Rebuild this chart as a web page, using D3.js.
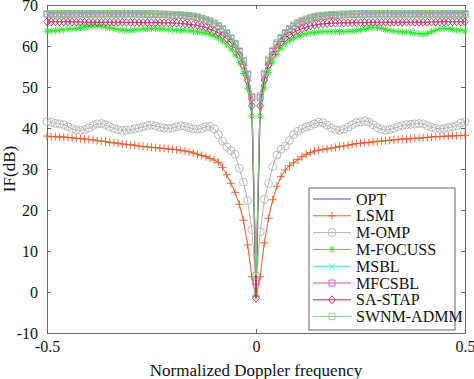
<!DOCTYPE html>
<html>
<head>
<meta charset="utf-8">
<script src="https://cdn.jsdelivr.net/npm/d3@7"></script>
<style>
  body { margin: 0; background: #fff; }
  svg { display: block; font-family: "Liberation Serif", "Times New Roman", serif; }
</style>
</head>
<body>
<svg id="chart" width="474" height="379"></svg>
<script>
// normalized doppler grid, -0.5 .. 0.5 step 0.01
var doppler = d3.range(101).map(function (i) { return (i - 50) / 100; });

var xTicks = [-0.5, 0, 0.5];
var yTicks = [-10, 0, 10, 20, 30, 40, 50, 60, 70];

var seriesNames = ["OPT", "LSMI", "M-OMP", "M-FOCUSS", "MSBL", "MFCSBL", "SA-STAP", "SWNM-ADMM"];

var opt = [
  68.1, 68.1, 68.1, 68.1, 68.1, 68.1, 68.1, 68.1, 68.1, 68.1, 68.1,
  68.1, 68.1, 68.1, 68.1, 68.1, 68.1, 68.1, 68.1, 68.1, 68.1,
  68.1, 68.1, 68.1, 68.05, 68.0, 67.95, 67.95, 67.9, 67.9, 67.85,
  67.8, 67.75, 67.7, 67.6, 67.5, 67.3, 67.0, 66.7, 66.3, 65.8,
  65.2, 64.4, 63.4, 62.2, 60.8, 59.0, 56.7, 53.3, 47.8,
  2.5,
  47.8, 53.3, 56.7, 59.0, 60.8, 62.2, 63.4, 64.4, 65.2,
  65.8, 66.3, 66.7, 67.0, 67.3, 67.5, 67.6, 67.7, 67.75, 67.8,
  67.85, 67.9, 67.9, 67.95, 67.95, 68.0, 68.05, 68.1, 68.1, 68.1,
  68.1, 68.1, 68.1, 68.1, 68.1, 68.1, 68.1, 68.1, 68.1, 68.1,
  68.1, 68.1, 68.1, 68.1, 68.1, 68.1, 68.1, 68.1, 68.1, 68.1, 68.1
];

var lsmi = [
  38.0, 37.9, 37.9, 37.8, 37.8, 37.7, 37.6, 37.5, 37.4, 37.3, 37.2,
  37.1, 36.9, 36.8, 36.7, 36.5, 36.4, 36.3, 36.1, 36.0, 35.9,
  35.8, 35.6, 35.5, 35.4, 35.3, 35.2, 35.1, 35.0, 34.9, 34.8,
  34.7, 34.6, 34.4, 34.2, 33.9, 33.6, 33.3, 33.0, 32.6, 32.2,
  31.6, 30.4, 28.6, 26.5, 24.3, 21.4, 17.5, 11.5, 3.7,
  -1.0,
  3.7, 12.0, 18.0, 22.5, 25.8, 28.2, 29.8, 30.8, 31.5,
  32.3, 33.0, 33.6, 34.0, 34.4, 34.6, 34.8, 34.9, 35.1, 35.3,
  35.5, 35.6, 35.8, 36.0, 36.2, 36.3, 36.4, 36.5, 36.6, 36.7,
  36.8, 36.9, 37.0, 37.1, 37.2, 37.3, 37.3, 37.4, 37.5, 37.5,
  37.6, 37.7, 37.8, 37.9, 37.9, 38.0, 38.0, 38.1, 38.1, 38.2, 38.2
];

var mOmp = [
  41.6, 41.4, 41.1, 41.0, 40.8, 40.3, 39.8, 39.5, 39.4, 39.6, 40.0,
  40.6, 41.0, 41.1, 40.8, 40.3, 39.9, 39.6, 39.4, 39.5, 39.6,
  39.8, 40.0, 40.3, 40.6, 40.7, 40.5, 40.2, 40.0, 39.9, 40.0,
  40.3, 40.5, 40.4, 40.1, 39.8, 39.7, 39.9, 40.3, 40.4, 39.8,
  38.4, 36.8, 35.4, 34.5, 33.6, 30.2, 26.8, 22.3, 15.2,
  2.0,
  14.7, 22.6, 26.5, 30.6, 33.4, 34.8, 35.6, 37.0, 38.4,
  39.2, 39.8, 40.2, 40.5, 41.0, 41.4, 41.3, 40.7, 40.0, 39.6,
  39.4, 39.7, 40.2, 40.8, 41.3, 41.5, 41.7, 41.4, 40.8, 40.1,
  39.7, 39.5, 39.6, 39.9, 40.3, 40.6, 40.8, 40.9, 41.0, 41.1,
  41.0, 40.6, 40.2, 39.9, 39.8, 39.9, 40.1, 40.3, 40.6, 41.2, 41.5
];

var mFocuss = [
  63.6, 63.7, 63.8, 63.9, 64.0, 64.1, 64.2, 64.3, 64.5, 64.6, 64.8,
  64.9, 64.9, 64.8, 64.6, 64.4, 64.2, 64.0, 63.9, 63.8, 63.8,
  63.9, 64.0, 64.1, 64.2, 64.3, 64.3, 64.2, 64.1, 64.0, 63.9,
  63.9, 63.8, 63.8, 63.7, 63.6, 63.5, 63.3, 63.1, 62.8, 62.4,
  61.9, 61.2, 60.3, 59.2, 57.8, 55.9, 53.3, 49.6, 42.9,
  -0.5,
  42.9, 49.8, 53.5, 56.1, 58.0, 59.4, 60.5, 61.3, 61.9,
  62.4, 62.7, 63.0, 63.2, 63.3, 63.4, 63.5, 63.5, 63.5, 63.5,
  63.5, 63.5, 63.6, 63.7, 63.8, 64.0, 64.2, 64.4, 64.5, 64.5,
  64.3, 64.0, 63.8, 63.6, 63.5, 63.4, 63.4, 63.3, 63.1, 63.0,
  62.9, 63.1, 63.5, 63.9, 64.2, 64.3, 64.2, 64.0, 63.9, 63.8, 63.7
];

var msbl = [
  68.0, 68.0, 68.0, 68.0, 68.0, 68.0, 68.0, 68.0, 68.0, 68.0, 68.0,
  68.0, 68.0, 68.0, 68.0, 68.0, 68.0, 68.0, 68.0, 68.0, 68.0,
  68.0, 68.0, 68.0, 67.95, 67.95, 67.9, 67.9, 67.85, 67.85, 67.8,
  67.75, 67.7, 67.6, 67.5, 67.4, 67.2, 66.9, 66.6, 66.2, 65.7,
  65.1, 64.3, 63.3, 62.1, 60.7, 58.9, 56.6, 53.2, 47.7,
  2.3,
  47.7, 53.2, 56.6, 58.9, 60.7, 62.1, 63.3, 64.3, 65.1,
  65.7, 66.2, 66.6, 66.9, 67.2, 67.4, 67.5, 67.6, 67.7, 67.75,
  67.8, 67.85, 67.85, 67.9, 67.9, 67.95, 68.0, 68.0, 68.0, 68.0,
  68.0, 68.0, 68.0, 68.0, 68.0, 68.0, 68.0, 68.0, 68.0, 68.0,
  68.0, 68.0, 68.0, 68.0, 68.0, 68.0, 68.0, 68.0, 68.0, 68.0, 68.0
];

var mfcsbl = [
  67.8, 67.8, 67.8, 67.8, 67.8, 67.8, 67.8, 67.8, 67.8, 67.8, 67.8,
  67.8, 67.8, 67.8, 67.8, 67.8, 67.8, 67.8, 67.8, 67.8, 67.8,
  67.8, 67.8, 67.8, 67.75, 67.75, 67.7, 67.7, 67.65, 67.6, 67.55,
  67.5, 67.45, 67.35, 67.25, 67.15, 66.95, 66.65, 66.35, 65.95, 65.45,
  64.85, 64.05, 63.05, 61.85, 60.45, 58.65, 56.35, 53.0, 47.5,
  2.6,
  47.5, 53.0, 56.35, 58.65, 60.45, 61.85, 63.05, 64.05, 64.85,
  65.45, 65.95, 66.35, 66.65, 66.95, 67.15, 67.25, 67.35, 67.45, 67.5,
  67.55, 67.6, 67.65, 67.7, 67.7, 67.75, 67.75, 67.8, 67.8, 67.8,
  67.8, 67.8, 67.8, 67.8, 67.8, 67.8, 67.8, 67.8, 67.8, 67.8,
  67.8, 67.8, 67.8, 67.8, 67.8, 67.8, 67.8, 67.8, 67.8, 67.8, 67.8
];

var saStap = [
  65.9, 65.9, 65.9, 65.9, 65.9, 65.9, 65.85, 65.85, 65.85, 65.8, 65.8,
  65.8, 65.8, 65.8, 65.8, 65.8, 65.8, 65.8, 65.8, 65.75, 65.75,
  65.75, 65.75, 65.7, 65.7, 65.7, 65.7, 65.7, 65.65, 65.65, 65.6,
  65.6, 65.5, 65.4, 65.3, 65.2, 65.0, 64.8, 64.5, 64.1, 63.7,
  63.2, 62.6, 61.8, 60.8, 59.5, 57.8, 55.3, 51.6, 45.4,
  -1.5,
  45.4, 51.7, 55.4, 57.9, 59.6, 60.9, 61.9, 62.7, 63.3,
  63.8, 64.2, 64.6, 64.9, 65.1, 65.3, 65.4, 65.5, 65.55, 65.6,
  65.6, 65.65, 65.65, 65.7, 65.7, 65.7, 65.75, 65.75, 65.75, 65.8,
  65.8, 65.8, 65.8, 65.8, 65.8, 65.8, 65.8, 65.8, 65.8, 65.8,
  65.8, 65.8, 65.85, 65.85, 65.85, 65.9, 65.9, 65.9, 65.9, 65.9, 65.9
];

var swnmAdmm = [
  67.9, 67.9, 67.9, 67.9, 67.9, 67.9, 67.9, 67.9, 67.9, 67.9, 67.9,
  67.9, 67.9, 67.9, 67.9, 67.9, 67.9, 67.9, 67.9, 67.9, 67.9,
  67.9, 67.9, 67.9, 67.9, 67.85, 67.85, 67.8, 67.8, 67.75, 67.7,
  67.65, 67.6, 67.5, 67.4, 67.3, 67.1, 66.8, 66.5, 66.1, 65.6,
  65.0, 64.2, 63.2, 62.0, 60.6, 58.8, 56.5, 53.2, 47.7,
  4.0,
  47.9, 53.4, 56.8, 59.0, 60.8, 62.1, 63.3, 64.3, 65.1,
  65.7, 66.2, 66.6, 66.9, 67.2, 67.4, 67.5, 67.6, 67.65, 67.7,
  67.75, 67.8, 67.8, 67.85, 67.85, 67.9, 67.9, 67.9, 67.9, 67.9,
  67.9, 67.9, 67.9, 67.9, 67.9, 67.9, 67.9, 67.9, 67.9, 67.9,
  67.9, 67.9, 67.9, 67.9, 67.9, 67.9, 67.9, 67.9, 67.9, 67.9, 67.9
];

var seriesValues = [opt, lsmi, mOmp, mFocuss, msbl, mfcsbl, saStap, swnmAdmm];
var seriesColors = ["#4646d8", "#ee5a2a", "#b4b4b4", "#2ee82e", "#3ee0ea", "#e050b4", "#b42c5c", "#86cc86"];
var seriesMarkers = ["none", "plus", "circle", "star", "cross", "square", "diamond", "square"];

// marker shapes, drawn as stroked paths
var markerPath = {
  plus: "M-4,0H4M0,-4V4",
  cross: "M-2.8,-2.8L2.8,2.8M-2.8,2.8L2.8,-2.8",
  star: "M-3.5,0H3.5M0,-3.5V3.5M-2.5,-2.5L2.5,2.5M-2.5,2.5L2.5,-2.5",
  square: "M-3,-3H3V3H-3Z",
  diamond: "M0,-4L3.3,0L0,4L-3.3,0Z"
};

function drawMarker(g, type, color) {
  if (type === "none") return;
  if (type === "circle") {
    g.append("circle").attr("r", 4).attr("fill", "none")
      .attr("stroke", color).attr("stroke-width", 0.9);
  } else {
    g.append("path").attr("d", markerPath[type]).attr("fill", "none")
      .attr("stroke", color).attr("stroke-width", 0.9);
  }
}

function drawChart() {
  var svg = d3.select("#chart"),
    mLeft = 47, mRight = 465, mTop = 5, mBottom = 333;

  var x = d3.scaleLinear().domain([-0.5, 0.5]).range([mLeft, mRight]);
  var y = d3.scaleLinear().domain([-10, 70]).range([mBottom, mTop]);

  var axisColor = "#666";

  function styleAxis(g) {
    g.select(".domain").attr("stroke", axisColor);
    g.selectAll(".tick line").attr("stroke", axisColor);
    g.selectAll(".tick text")
      .attr("fill", "#111")
      .style("font-family", "Liberation Serif, serif")
      .style("font-size", "16px");
  }

  // plain hyphen for negatives, like the original
  var fmtX = function (d) { return d === 0 ? "0" : d.toFixed(1); };
  var fmtY = function (d) { return String(d); };

  // axes with inward ticks (box on)
  svg.append("g")
    .attr("transform", "translate(0," + mBottom + ")")
    .call(d3.axisBottom(x).tickValues(xTicks).tickSizeInner(-4).tickSizeOuter(0).tickPadding(8).tickFormat(fmtX))
    .call(styleAxis);

  svg.append("g")
    .attr("transform", "translate(" + mLeft + ",0)")
    .call(d3.axisLeft(y).tickValues(yTicks).tickSizeInner(-4).tickSizeOuter(0).tickPadding(9).tickFormat(fmtY))
    .call(styleAxis);

  svg.append("g")
    .attr("transform", "translate(0," + mTop + ")")
    .call(d3.axisTop(x).tickValues(xTicks).tickSizeInner(-4).tickSizeOuter(0).tickFormat(""))
    .call(styleAxis);

  svg.append("g")
    .attr("transform", "translate(" + mRight + ",0)")
    .call(d3.axisRight(y).tickValues(yTicks).tickSizeInner(-4).tickSizeOuter(0).tickFormat(""))
    .call(styleAxis);

  // series
  var line = d3.line()
    .x(function (d) { return x(d[0]); })
    .y(function (d) { return y(d[1]); });

  seriesValues.forEach(function (vals, k) {
    var pts = doppler.map(function (f, i) { return [f, vals[i]]; });
    var g = svg.append("g").attr("class", "series");
    g.append("path")
      .datum(pts)
      .attr("d", line)
      .attr("fill", "none")
      .attr("stroke", seriesColors[k])
      .attr("stroke-width", 1);
    if (seriesMarkers[k] !== "none") {
      g.selectAll("g.mk")
        .data(pts)
        .enter().append("g")
        .attr("class", "mk")
        .attr("transform", function (d) { return "translate(" + x(d[0]) + "," + y(d[1]) + ")"; })
        .each(function () { drawMarker(d3.select(this), seriesMarkers[k], seriesColors[k]); });
    }
  });

  // axis titles
  svg.append("text")
    .attr("x", x(0))
    .attr("y", 376)
    .attr("text-anchor", "middle")
    .style("font-size", "17px")
    .attr("fill", "#111")
    .text("Normalized Doppler frequency");

  svg.append("text")
    .attr("transform", "translate(15," + ((mTop + mBottom) / 2) + ") rotate(-90)")
    .attr("text-anchor", "middle")
    .style("font-size", "17px")
    .attr("fill", "#111")
    .text("IF(dB)");

  // legend
  var legend = svg.append("g").attr("transform", "translate(309,188)");
  legend.append("rect")
    .attr("width", 146)
    .attr("height", 142)
    .attr("fill", "#fff")
    .attr("stroke", axisColor)
    .attr("stroke-width", 1);

  seriesNames.forEach(function (name, k) {
    var row = legend.append("g").attr("transform", "translate(0," + (11 + k * 16.8) + ")");
    row.append("line")
      .attr("x1", 4).attr("x2", 42)
      .attr("stroke", seriesColors[k]).attr("stroke-width", 1);
    var m = row.append("g").attr("transform", "translate(23,0)");
    drawMarker(m, seriesMarkers[k], seriesColors[k]);
    row.append("text")
      .attr("x", 47)
      .attr("y", 5.5)
      .style("font-size", "16px")
      .attr("fill", "#111")
      .text(name);
  });
}

drawChart();
</script>
</body>
</html>
